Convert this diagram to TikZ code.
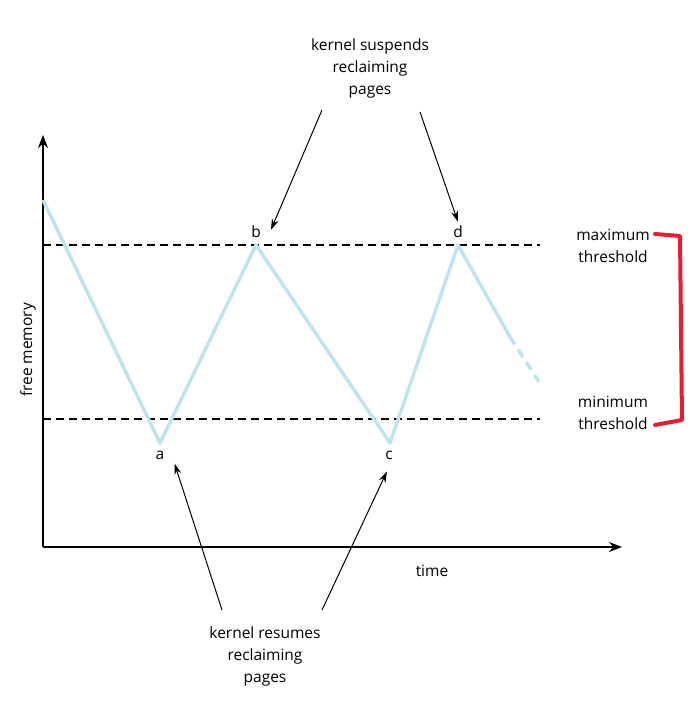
\documentclass[tikz,border=0pt]{standalone}
\usepackage{fontspec}
\setmainfont{Open Sans}
\usetikzlibrary{arrows.meta}
\definecolor{lblue}{RGB}{190,228,244}
\definecolor{bred}{RGB}{230,30,50}
\tikzset{lbl/.style={font=\fontsize{15.5}{22}\selectfont, align=center, inner sep=0pt},
 thr/.style={black, dashed, dash pattern=on 8pt off 5pt, line width=1.3pt},
 ptr/.style={-{Stealth[length=11pt,width=7pt]}, line width=1pt},
 curve/.style={lblue, line width=3.5pt}}
\begin{document}
\begin{tikzpicture}[x=1pt,y=-1pt]
\useasboundingbox (0,0) rectangle (700,720);
\coordinate (o) at (43,547);
\coordinate (ytop) at (43,135);
\coordinate (xend) at (622,547);
\draw[line width=1.8pt,-{Stealth[length=13pt,width=10pt]}] (o) -- (ytop);
\draw[line width=1.8pt,-{Stealth[length=13pt,width=10pt]}] (o) -- (xend);
\coordinate (mx1) at (43,245); \coordinate (mx2) at (540,245);
\coordinate (mn1) at (43,419); \coordinate (mn2) at (540,419);
\draw[thr] (mx1) -- (mx2);
\draw[thr] (mn1) -- (mn2);
\coordinate (s) at (43,200);
\coordinate (pa) at (160,443);
\coordinate (pb) at (256,245);
\coordinate (pc) at (390,443);
\coordinate (pd) at (458,245);
\coordinate (pe) at (510,337);
\coordinate (pf) at (539,382);
\draw[curve, line join=round] (s) -- (pa) -- (pb) -- (pc) -- (pd) -- (pe);
\draw[curve, dash pattern=on 9pt off 6pt] (pe) -- (pf);
\node[lbl] (a) at (160,455) {a};
\node[lbl] (b) at (256,232) {b};
\node[lbl] (c) at (389,455) {c};
\node[lbl] (d) at (458,232) {d};
\node[lbl] (maxt) at (613,246) {maximum\\threshold};
\node[lbl] (mint) at (613,413) {minimum\\threshold};
\node[lbl] (top) at (370,68) {kernel suspends\\reclaiming\\pages};
\node[lbl] (bot) at (265,656) {kernel resumes\\reclaiming\\pages};
\node[lbl, rotate=90] (fm) at (28,350) {free memory};
\node[lbl] (time) at (432,571) {time};
\coordinate (t1) at (322,110); \coordinate (t2) at (420,112);
\coordinate (b1) at (222,610); \coordinate (b2) at (322,610);
\draw[ptr] (t1) -- ([shift={(10pt,-4pt)}]b.north east);
\draw[ptr] (t2) -- ([yshift=4pt]d.north);
\draw[ptr] (b1) -- ([shift={(10pt,-4pt)}]a.south east);
\draw[ptr] (b2) -- ([shift={(-6pt,-12pt)}]c.south east);
\coordinate (r1) at (655,234); \coordinate (r2) at (680,236);
\coordinate (r3) at (682,420); \coordinate (r4) at (655,425);
\draw[bred, line width=4pt, line cap=round, line join=round] (r1) -- (r2) -- (r3) -- (r4);
\end{tikzpicture}
\end{document}
